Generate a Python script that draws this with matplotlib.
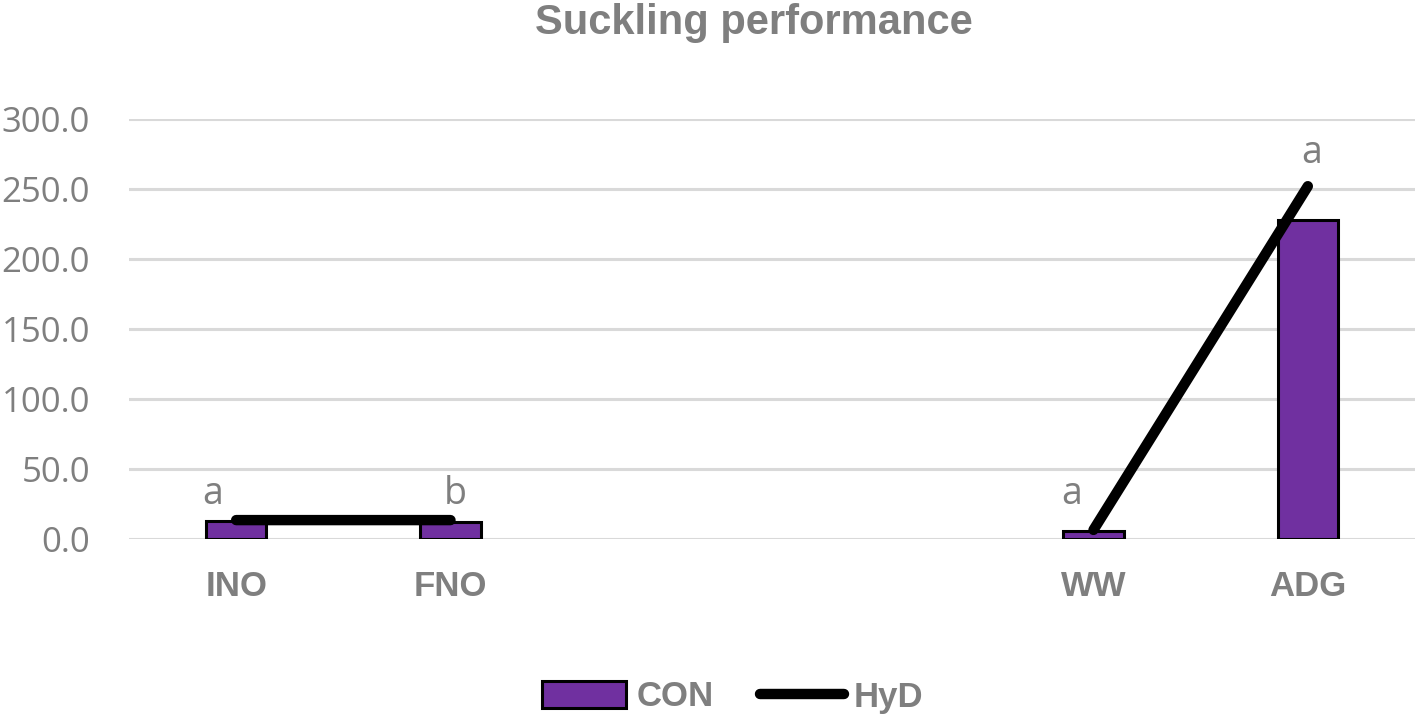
import numpy as np
import matplotlib.pyplot as plt

# data
categories = ["INO", "FNO", "", "", "WW", "ADG"]
con_values = [13.0, 12.5, np.nan, np.nan, 6.0, 228.0]
hyd_values = [13.5, 13.5, np.nan, np.nan, 6.5, 252.0]
sig_letters = ["a", "b", "", "", "a", "a"]
sig_heights = [32, 32, np.nan, np.nan, 32, 276]

purple = "#7030A0"
gray = "#7F7F7F"
grid_gray = "#D9D9D9"

fig = plt.figure(figsize=(14.2, 7.2), dpi=100)
ax = fig.add_axes([129 / 1420, 1 - 539 / 720, 1286 / 1420, 420 / 720])

x = np.arange(len(categories))

bars = ax.bar(x, con_values, width=0.28, color=purple, edgecolor="black", linewidth=2.2,
              label="CON", zorder=2)
line, = ax.plot(x, hyd_values, color="black", linewidth=7.5, solid_capstyle="round",
                label="HyD", zorder=3)

# significance letters
label_dx = [-0.11, 0.02, 0, 0, -0.10, 0.02]
for i, (letter, h) in enumerate(zip(sig_letters, sig_heights)):
    if letter:
        ax.text(x[i] + label_dx[i], h, letter, ha="center", va="center",
                fontsize=27, color=gray, family="Open Sans")

ax.set_xlim(-0.5, len(categories) - 0.5)
ax.set_ylim(0, 300)
ax.set_yticks(np.arange(0, 301, 50))
ax.set_yticklabels([f"{v:.1f}" for v in np.arange(0, 301, 50)], family="Open Sans",
                   fontsize=25, color=gray)
ax.set_xticks(x)
ax.set_xticklabels(categories, fontsize=25, fontweight="bold", color=gray,
                   family="Liberation Sans")
ax.tick_params(axis="both", length=0)
ax.tick_params(axis="x", pad=22)
ax.tick_params(axis="y", pad=28)

ax.yaxis.grid(True, color=grid_gray, linewidth=2.2, zorder=0)
ax.set_axisbelow(True)
for s in ax.spines.values():
    s.set_visible(False)

fig.text(754 / 1420, 1 - 23 / 720, "Suckling performance", ha="center", va="center",
         fontsize=30, fontweight="bold", color=gray, family="Liberation Sans")

leg = fig.legend([bars, line], ["CON", "HyD"], loc="center",
                 bbox_to_anchor=(733 / 1420, 1 - 697 / 720), ncol=2,
                 frameon=False, handlelength=2.4, handleheight=0.8, columnspacing=1.35,
                 handletextpad=0.3,
                 prop={"family": "Liberation Sans", "weight": "bold", "size": 25})
for t in leg.get_texts():
    t.set_color(gray)

fig.savefig("out.png", dpi=100)
